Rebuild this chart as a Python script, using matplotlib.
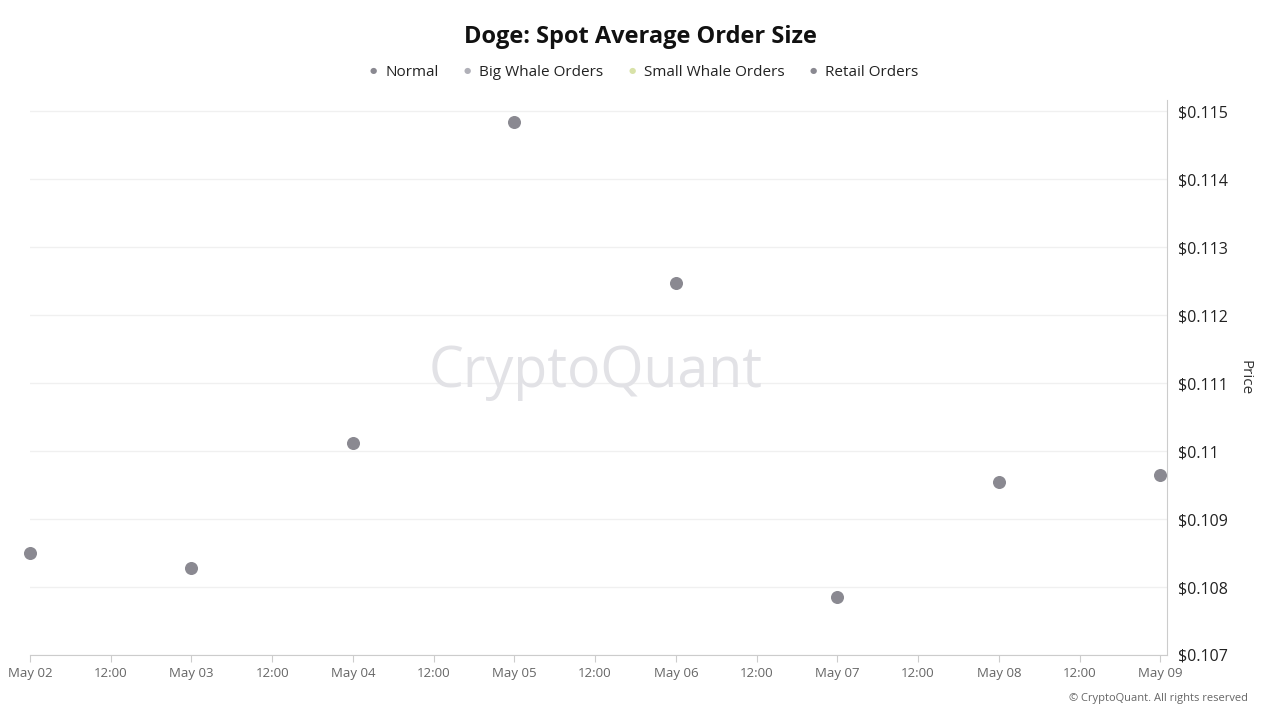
import matplotlib
matplotlib.use("Agg")
import matplotlib.pyplot as plt
import matplotlib.dates as mdates
import datetime as dt

plt.rcParams['font.family'] = ['Open Sans', 'DejaVu Sans']

dates = [dt.datetime(2024, 5, d) for d in range(2, 10)]
prices = [0.10850, 0.10828, 0.11012, 0.11485, 0.11248, 0.10785, 0.10955, 0.10965]
yticks = [0.107, 0.108, 0.109, 0.110, 0.111, 0.112, 0.113, 0.114, 0.115]
ylabels = ["$0.107", "$0.108", "$0.109", "$0.11", "$0.111", "$0.112", "$0.113", "$0.114", "$0.115"]

fig = plt.figure(figsize=(12.8, 7.2), dpi=100)
ax = fig.add_axes([0.0234, 0.0903, 0.8883, 0.771])

ax.scatter(dates, prices, s=70, color="#8a8991", zorder=3, clip_on=False)

ax.set_xlim(dates[0], dates[-1] + dt.timedelta(hours=1))
ax.set_ylim(0.107, 0.11517)
ax.yaxis.tick_right()
ax.yaxis.set_label_position("right")
ax.set_yticks(yticks)
ax.set_yticklabels(ylabels, fontsize=11.5, color="#222222")
ax.set_ylabel("Price", rotation=270, labelpad=18, fontsize=11, color="#333333")
ax.xaxis.set_major_locator(mdates.HourLocator(byhour=[0, 12]))
ax.xaxis.set_major_formatter(
    plt.FuncFormatter(lambda v, p: mdates.num2date(v).strftime("%b %d") if mdates.num2date(v).hour == 0 else "12:00"))
ax.tick_params(axis="x", labelsize=9.5, colors="#666666", length=5, color="#cccccc")
ax.tick_params(axis="y", length=0, pad=8)
ax.grid(axis="y", color="#f0f0f0", linewidth=1)
for s in ["top", "left"]:
    ax.spines[s].set_visible(False)
ax.spines["bottom"].set_color("#cccccc")
ax.spines["right"].set_color("#cccccc")

fig.text(0.5, 0.948, "Doge: Spot Average Order Size", ha="center", va="center",
         fontsize=17, fontweight="bold", color="#111111")

legend = [("Normal", "#8a8991", 0.2914), ("Big Whale Orders", "#b0b0b8", 0.365),
          ("Small Whale Orders", "#d8e2a8", 0.494), ("Retail Orders", "#8a8991", 0.635)]
for name, c, x in legend:
    fig.text(x, 0.9, "\u25cf", ha="center", va="center", fontsize=6, color=c)
    fig.text(x + 0.0095, 0.9, name, ha="left", va="center", fontsize=11, color="#222222")

fig.text(0.465, 0.482, "CryptoQuant", ha="center", va="center", fontsize=40,
         color="#e2e2e6", zorder=0)
fig.text(0.975, 0.03, "\u00a9 CryptoQuant. All rights reserved", ha="right", va="center",
         fontsize=8, color="#666666")

fig.savefig("out.png", dpi=100, facecolor="white")
